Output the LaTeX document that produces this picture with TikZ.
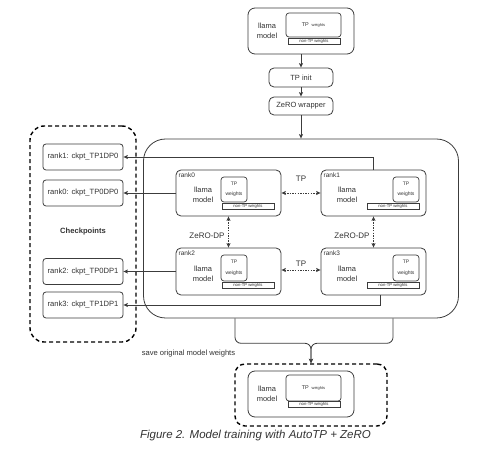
\documentclass[tikz,border=0pt]{standalone}
\usepackage{fontspec}
\setmainfont{Liberation Sans}
\usetikzlibrary{calc,arrows.meta}
\definecolor{lc}{HTML}{3C3C3C}
\definecolor{tc}{HTML}{333333}
\tikzset{
  rbox/.style={draw=lc, line width=0.8pt, rounded corners=5pt, inner sep=0pt},
  mbox/.style={rbox, rounded corners=7pt},
  tpbox/.style={draw=lc, line width=0.7pt, rounded corners=3pt, inner sep=0pt, align=center},
  ntpbox/.style={draw=lc, line width=0.6pt, inner sep=0pt, font=\fontsize{4.2}{4.2}\selectfont},
  ckbox/.style={rbox, rounded corners=3pt, minimum width=80pt, minimum height=26pt, font=\fontsize{7.6}{9}\selectfont},
  plain/.style={inner sep=0pt, align=center},
  conn/.style={draw=lc, line width=0.8pt, -{Stealth[length=4.5pt,width=4pt,inset=1pt]}},
  dotconn/.style={draw=lc, line width=0.8pt, dash pattern=on 1.3pt off 1.3pt, {Stealth[length=4.5pt,width=4pt,inset=1pt]}-{Stealth[length=4.5pt,width=4pt,inset=1pt]}},
  dashbox/.style={draw=black, line width=1.4pt, dash pattern=on 4pt off 3pt},
  mtext/.style={plain, font=\fontsize{7.5}{10}\selectfont},
  rtext/.style={plain, font=\fontsize{6.5}{7}\selectfont, anchor=north west},
  lbl/.style={plain, font=\fontsize{8}{9}\selectfont},
}
\begin{document}
\begin{tikzpicture}[x=1pt,y=-1pt, every node/.append style={text=tc}]
\fill[white] (0,0) rectangle (480,449);
\useasboundingbox (0,0) rectangle (480,449);

% top model
\node[mbox, minimum width=106pt, minimum height=46pt] (m0) at (301,31) {};
\node[mtext] (m0t) at (267,31) {llama\\model};
\node[tpbox, minimum width=55pt, minimum height=24pt] (m0tp) at (313.5,25) {{\fontsize{5.5}{6}\selectfont TP} {\fontsize{4}{5}\selectfont weights}};
\node[ntpbox, minimum width=52pt, minimum height=6pt] (m0ntp) at (314,41) {non-TP weights};

\node[rbox, minimum width=64pt, minimum height=19pt, font=\fontsize{7.5}{9}\selectfont] (tpi) at (301,77.5) {TP init};
\node[rbox, minimum width=64pt, minimum height=18pt, font=\fontsize{7.5}{9}\selectfont] (zw) at (301,106) {ZeRO wrapper};

% big group box
\node[draw=lc, line width=0.8pt, rounded corners=22pt, minimum width=315pt, minimum height=179pt, inner sep=0pt] (big) at (301,228.5) {};

\draw[conn] (m0.south) -- (tpi.north);
\draw[conn] (tpi.south) -- (zw.north);
\draw[conn] (zw.south) -- (big.north);

% checkpoints
\node[dashbox, rounded corners=14pt, minimum width=106pt, minimum height=216pt, inner sep=0pt] (ckgrp) at (83,234) {};
\node[ckbox] (ck1) at (83,157) {rank1: ckpt\_TP1DP0};
\node[ckbox] (ck0) at (83,193) {rank0: ckpt\_TP0DP0};
\node[plain, font=\fontsize{7.6}{9}\bfseries] (cklbl) at (83,232) {Checkpoints};
\node[ckbox] (ck2) at (83,271.5) {rank2: ckpt\_TP0DP1};
\node[ckbox] (ck3) at (83,305) {rank3: ckpt\_TP1DP1};

% rank0
\node[rbox, minimum width=105pt, minimum height=46pt] (r0) at (228.5,193) {};
\node[rtext] (r0l) at (178.5,172.5) {rank0};
\node[mtext] (r0t) at (203,195) {llama\\model};
\node[tpbox, minimum width=26pt, minimum height=25pt, font=\fontsize{5}{10.5}\selectfont] (r0tp) at (234,189.5) {TP\\weights};
\node[ntpbox, minimum width=52pt, minimum height=6pt] (r0ntp) at (248,206) {non-TP weights};

% rank1
\node[rbox, minimum width=105pt, minimum height=46pt] (r1) at (373.5,193) {};
\node[rtext] (r1l) at (323.5,172.5) {rank1};
\node[mtext] (r1t) at (347,195) {llama\\model};
\node[tpbox, minimum width=26pt, minimum height=25pt, font=\fontsize{5}{10.5}\selectfont] (r1tp) at (406,189.5) {TP\\weights};
\node[ntpbox, minimum width=52pt, minimum height=6pt] (r1ntp) at (393,206) {non-TP weights};

% rank2
\node[rbox, minimum width=105pt, minimum height=47pt] (r2) at (228.5,271.5) {};
\node[rtext] (r2l) at (178.5,251) {rank2};
\node[mtext] (r2t) at (203,273.5) {llama\\model};
\node[tpbox, minimum width=26pt, minimum height=26pt, font=\fontsize{5}{10.5}\selectfont] (r2tp) at (234,268) {TP\\weights};
\node[ntpbox, minimum width=52pt, minimum height=6pt] (r2ntp) at (248,285) {non-TP weights};

% rank3
\node[rbox, minimum width=105pt, minimum height=47pt] (r3) at (373.5,271.5) {};
\node[rtext] (r3l) at (323.5,251) {rank3};
\node[mtext] (r3t) at (347,273.5) {llama\\model};
\node[tpbox, minimum width=26pt, minimum height=26pt, font=\fontsize{5}{10.5}\selectfont] (r3tp) at (406,268) {TP\\weights};
\node[ntpbox, minimum width=52pt, minimum height=6pt] (r3ntp) at (393,285) {non-TP weights};

% TP / ZeRO-DP links
\draw[dotconn] (r0.east) -- (r1.west);
\node[lbl] (tp1) at (301,179) {TP};
\draw[dotconn] ($(r2.east)+(0,-1.5)$) coordinate (r2e) -- (r2e -| r3.west);
\node[lbl] (tp2) at (301,264) {TP};
\draw[dotconn] (r0.south) -- (r2.north);
\node[lbl] (zd1) at (207,236) {ZeRO-DP};
\draw[dotconn] (r1.south) -- (r3.north);
\node[lbl] (zd2) at (352,236) {ZeRO-DP};

% checkpoint connectors
\draw[conn] (r1.north) |- (ck1.east);
\draw[conn] (r0.west) -- (ck0.east);
\draw[conn] (r2.west) -- (ck2.east);
\draw[conn] ($(r3.south)+(6.5,0)$) |- (ck3.east);

% output
\node[dashbox, rounded corners=10pt, minimum width=152pt, minimum height=62pt, inner sep=0pt] (outgrp) at (311,395) {};
\node[mbox, minimum width=106pt, minimum height=46pt] (m1) at (301,394) {};
\node[mtext] (m1t) at (267,394) {llama\\model};
\node[tpbox, minimum width=55pt, minimum height=26pt] (m1tp) at (313.5,388) {{\fontsize{5.5}{6}\selectfont TP} {\fontsize{4}{5}\selectfont weights}};
\node[ntpbox, minimum width=52pt, minimum height=6pt] (m1ntp) at (314,404) {non-TP weights};

\coordinate (bL) at ($(big.south)+(-66,0)$);
\coordinate (bR) at ($(big.south)+(92,0)$);
\coordinate (mj) at ($(outgrp.north)+(0,-20)$);
\draw[conn, rounded corners=6pt] (bL) |- (mj) -- (outgrp.north);
\draw[conn, rounded corners=6pt] (bR) |- (mj) -- (outgrp.north);
\node[plain, font=\fontsize{7.6}{9}\selectfont] (save) at (188.5,354) {save original model weights};

% caption
\node[plain, font=\fontsize{11.5}{13}\selectfont\itshape] (cap) at (255.5,436) {Figure 2. Model training with AutoTP + ZeRO};
\end{tikzpicture}
\end{document}
